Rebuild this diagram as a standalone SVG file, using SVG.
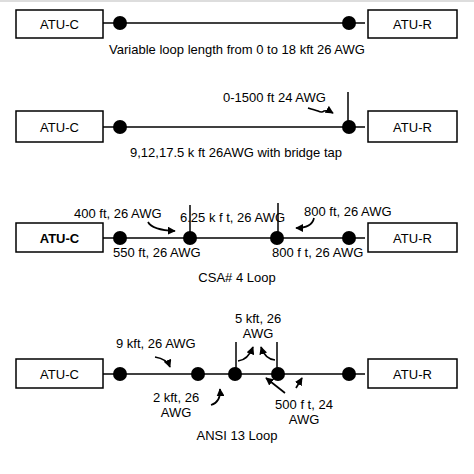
<svg xmlns="http://www.w3.org/2000/svg" width="474" height="474" viewBox="0 0 474 474">
<defs>
<marker id="ah" viewBox="0 0 10 10" refX="9" refY="5" markerWidth="8" markerHeight="8" orient="auto" markerUnits="userSpaceOnUse">
<path d="M0,0 L10,5 L0,10 z" fill="#000"/>
</marker>
<style>
.box{fill:#fff;stroke:#000;stroke-width:1.5}
.ln{fill:none;stroke:#000;stroke-width:1.5}
.dot{fill:#000}
.ar{fill:none;stroke:#000;stroke-width:1.7;marker-end:url(#ah)}
text{font-family:"Liberation Sans",Arial,sans-serif;font-size:13px;fill:#000}
.c{text-anchor:middle}
</style>
</defs>
<rect x="0" y="0" width="474" height="474" fill="#fff"/>
<rect x="0" y="0" width="474" height="2" fill="#ddd"/>

<g id="connectors">
<line class="ln" x1="103" y1="23" x2="365" y2="23"/>
<line class="ln" x1="103" y1="127" x2="365" y2="127"/>
<line class="ln" x1="348" y1="92" x2="348" y2="127"/>
<line class="ln" x1="103" y1="238" x2="365" y2="238"/>
<line class="ln" x1="190" y1="205" x2="190" y2="238"/>
<line class="ln" x1="278" y1="203" x2="278" y2="238"/>
<line class="ln" x1="103" y1="374" x2="365" y2="374"/>
<line class="ln" x1="236" y1="342" x2="236" y2="374"/>
<line class="ln" x1="277" y1="342" x2="277" y2="374"/>
<path class="ar" d="M308,108 Q315,110 318,111 Q322,113 324,111 Q328,110 333,113"/>
<path class="ar" d="M148,222 Q152,230 175,231"/>
<path class="ar" d="M314,218 Q312,228 296,228"/>
<path class="ar" d="M155,357 Q167,359 170,367"/>
<path class="ar" d="M238,361 Q248,360 253,347"/>
<path class="ar" d="M275,360 Q265,359 261,347"/>
<path class="ar" d="M211,405 Q221,402 220,389"/>
<path class="ar" d="M285,393 L266,378"/>
<path class="ar" d="M296,388 L302,378"/>
</g>

<g id="row1">
<g id="atuc1"><rect class="box" x="16" y="10" width="87" height="28"/><text class="c" x="59.5" y="28.5">ATU-C</text></g>
<g id="atur1"><rect class="box" x="368" y="10" width="89" height="28"/><text class="c" x="412.5" y="28.5">ATU-R</text></g>
<circle class="dot" cx="120" cy="23" r="7"/>
<circle class="dot" cx="349" cy="23" r="7"/>
<text class="c" x="237" y="54">Variable loop length from 0 to 18 kft 26 AWG</text>
</g>

<g id="row2">
<g id="atuc2"><rect class="box" x="16" y="111" width="87" height="31"/><text class="c" x="59.5" y="131.5">ATU-C</text></g>
<g id="atur2"><rect class="box" x="368" y="111" width="89" height="31"/><text class="c" x="412.5" y="131.5">ATU-R</text></g>
<circle class="dot" cx="120" cy="127" r="7"/>
<circle class="dot" cx="349" cy="127" r="7"/>
<text x="223" y="102">0-1500 ft 24 AWG</text>
<text class="c" x="236" y="157">9,12,17.5 k ft 26AWG with bridge tap</text>
</g>

<g id="row3">
<g id="atuc3"><rect class="box" x="16" y="223" width="87" height="29"/><text class="c" x="59.5" y="243" font-weight="bold">ATU-C</text></g>
<g id="atur3"><rect class="box" x="368" y="223" width="89" height="29"/><text class="c" x="412.5" y="243">ATU-R</text></g>
<circle class="dot" cx="120" cy="238" r="7"/>
<circle class="dot" cx="190" cy="238" r="7"/>
<circle class="dot" cx="277" cy="238" r="7"/>
<circle class="dot" cx="349" cy="238" r="7"/>
<text x="74" y="218">400 ft, 26 AWG</text>
<text x="180" y="222">6.25 k f t, 26 AWG</text>
<text x="304" y="216">800 ft, 26 AWG</text>
<text x="113" y="257">550 ft, 26 AWG</text>
<text x="272" y="257">800 f t, 26 AWG</text>
<text class="c" x="237" y="282">CSA# 4 Loop</text>
</g>

<g id="row4">
<g id="atuc4"><rect class="box" x="16" y="359" width="87" height="29"/><text class="c" x="59.5" y="379">ATU-C</text></g>
<g id="atur4"><rect class="box" x="368" y="359" width="89" height="29"/><text class="c" x="412.5" y="379">ATU-R</text></g>
<circle class="dot" cx="120" cy="374" r="7"/>
<circle class="dot" cx="198" cy="374" r="7"/>
<circle class="dot" cx="235" cy="374" r="7"/>
<circle class="dot" cx="278" cy="374" r="7"/>
<circle class="dot" cx="349" cy="374" r="7"/>
<text x="116" y="348">9 kft, 26 AWG</text>
<text class="c" x="258" y="323">5 kft, 26</text>
<text class="c" x="258" y="338">AWG</text>
<text class="c" x="176" y="402">2 kft, 26</text>
<text class="c" x="176" y="417">AWG</text>
<text class="c" x="304" y="409">500 f t, 24</text>
<text class="c" x="304" y="424">AWG</text>
<text class="c" x="237" y="440">ANSI 13 Loop</text>
</g>
</svg>
